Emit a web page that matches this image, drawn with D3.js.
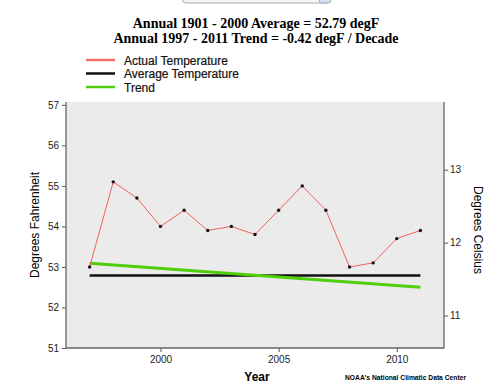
<!DOCTYPE html>
<html lang="en">
<head>
  <meta charset="utf-8">
  <script src="https://d3js.org/d3.v7.min.js"></script>
  <style>
    body { margin: 0; background: #fff; }
    svg { display: block; }
  </style>
</head>
<body>
<svg id="chart" width="500" height="384"></svg>
<script>
// data
var years = [1997, 1998, 1999, 2000, 2001, 2002, 2003, 2004, 2005, 2006, 2007, 2008, 2009, 2010, 2011];
var actual = [53.0, 55.1, 54.7, 54.0, 54.4, 53.9, 54.0, 53.8, 54.4, 55.0, 54.4, 53.0, 53.1, 53.7, 53.9];
var average = 52.79;
var trendEnds = [53.09, 52.50];
var fTicks = [51, 52, 53, 54, 55, 56, 57];
var cTicks = [11, 12, 13];
var xTicks = [2000, 2005, 2010];
var titles = ["Annual 1901 - 2000 Average = 52.79 degF", "Annual 1997 - 2011 Trend = -0.42 degF / Decade"];
var legendItems = [
  { label: "Actual Temperature", color: "#f0706a" },
  { label: "Average Temperature", color: "#111" },
  { label: "Trend", color: "#4fcf0a" }
];

var svg = d3.select("#chart");
var L = 66, R = 444, T = 102, B = 348;

var x = d3.scaleLinear().domain([1996, 2012]).range([L, R]);
var y = d3.scaleLinear().domain([51, 57.07]).range([B, T]);
var yc = d3.scaleLinear().domain([(51 - 32) * 5 / 9, (57.07 - 32) * 5 / 9]).range([B, T]);

// bit of the select box cut off at the top
svg.append("rect").attr("x", 182).attr("y", -20).attr("width", 149).attr("height", 23)
  .attr("rx", 4).attr("fill", "#f4f4f4").attr("stroke", "#aaa");
svg.append("rect").attr("x", 319).attr("y", -20).attr("width", 12).attr("height", 23)
  .attr("rx", 3).attr("fill", "#cfe0f5").attr("stroke", "#aaa");

// titles
svg.selectAll("text.title").data(titles).enter().append("text")
  .attr("class", "title")
  .attr("x", 256).attr("y", function(d, i) { return 28 + i * 15; })
  .attr("text-anchor", "middle")
  .style("font-family", "'Liberation Serif', serif")
  .style("font-weight", "bold").style("font-size", "14px")
  .text(function(d) { return d; });

// legend
var lg = svg.selectAll("g.leg").data(legendItems).enter().append("g")
  .attr("transform", function(d, i) { return "translate(86," + (60 + i * 13.5) + ")"; });
lg.append("line").attr("x1", 0).attr("x2", 29).attr("y1", 0).attr("y2", 0)
  .attr("stroke", function(d) { return d.color; }).attr("stroke-width", 2.5);
lg.append("text").attr("x", 38).attr("y", 4.5)
  .style("font-family", "'Liberation Sans', Arial, sans-serif").style("font-size", "12px")
  .attr("fill", "#111").attr("stroke", "#111").attr("stroke-width", 0.2)
  .text(function(d) { return d.label; });

// plot background
svg.append("rect").attr("x", L).attr("y", T).attr("width", R - L).attr("height", B - T)
  .attr("fill", "#ebebeb");

var tickFont = function(g) {
  g.selectAll("text").style("font-family", "'Liberation Sans', Arial, sans-serif")
    .style("font-size", "10px").attr("fill", "#222");
  g.selectAll("line").attr("stroke", "#555");
  g.select(".domain").remove();
};

// axes
svg.append("g").attr("transform", "translate(" + L + ",0)")
  .call(d3.axisLeft(y).tickValues(fTicks).tickSize(4).tickPadding(3).tickFormat(d3.format("d")))
  .call(tickFont);
svg.append("g").attr("transform", "translate(" + R + ",0)")
  .call(d3.axisRight(yc).tickValues(cTicks).tickSize(4).tickPadding(2).tickFormat(d3.format("d")))
  .call(tickFont);
svg.append("g").attr("transform", "translate(0," + B + ")")
  .call(d3.axisBottom(x).tickValues(xTicks).tickSize(4).tickPadding(4).tickFormat(d3.format("d")))
  .call(tickFont);

// frame lines (left, right, bottom)
svg.append("path").attr("d", "M" + L + "," + T + "V" + B + "H" + R + "V" + T)
  .attr("fill", "none").attr("stroke", "#666").attr("stroke-width", 1.3);

// average line
svg.append("line")
  .attr("x1", x(years[0])).attr("x2", x(years[years.length - 1]))
  .attr("y1", y(average)).attr("y2", y(average))
  .attr("stroke", "#111").attr("stroke-width", 2.5);

// trend line
svg.append("line")
  .attr("x1", x(years[0])).attr("x2", x(years[years.length - 1]))
  .attr("y1", y(trendEnds[0])).attr("y2", y(trendEnds[1]))
  .attr("stroke", "#4fcf0a").attr("stroke-width", 3);

// actual temps
var line = d3.line().x(function(d, i) { return x(years[i]); }).y(function(d) { return y(d); });
svg.append("path").datum(actual).attr("d", line)
  .attr("fill", "none").attr("stroke", "#f0625a").attr("stroke-width", 1);
svg.selectAll("circle.pt").data(actual).enter().append("circle").attr("class", "pt")
  .attr("cx", function(d, i) { return x(years[i]); })
  .attr("cy", function(d) { return y(d); })
  .attr("r", 1.7).attr("fill", "#111");

// axis titles
svg.append("text").attr("transform", "translate(39,225) rotate(-90)")
  .attr("text-anchor", "middle")
  .style("font-family", "'Liberation Sans', Arial, sans-serif").style("font-size", "12px")
  .text("Degrees Fahrenheit");
svg.append("text").attr("transform", "translate(474,230) rotate(90)")
  .attr("text-anchor", "middle")
  .style("font-family", "'Liberation Sans', Arial, sans-serif").style("font-size", "12px")
  .text("Degrees Celsius");
svg.append("text").attr("x", 257).attr("y", 381).attr("text-anchor", "middle")
  .style("font-family", "'Liberation Sans', Arial, sans-serif").style("font-size", "12px")
  .style("font-weight", "bold").text("Year");
svg.append("text").attr("x", 345).attr("y", 380)
  .attr("textLength", 121).attr("lengthAdjust", "spacingAndGlyphs")
  .style("font-family", "'Liberation Sans', Arial, sans-serif").style("font-size", "7.5px")
  .style("font-weight", "bold").text("NOAA's National Climatic Data Center");
</script>
</body>
</html>
